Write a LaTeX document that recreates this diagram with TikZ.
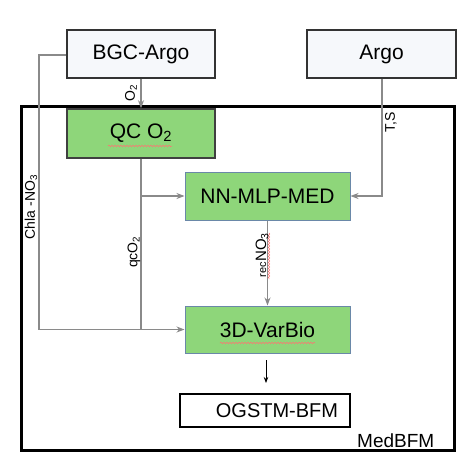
\documentclass[tikz,border=0pt]{standalone}
\usepackage{fontspec}
\setmainfont{Liberation Sans}
\usetikzlibrary{arrows.meta,decorations.pathmorphing}
\definecolor{boxgreen}{HTML}{8ED67A}
\definecolor{srcfill}{HTML}{F6F8FB}
\definecolor{conn}{HTML}{8A8A8A}
\definecolor{bluebd}{HTML}{6A88A8}
\begin{document}
\begin{tikzpicture}[x=1pt,y=-1pt,
  srcbox/.style={draw=black!80,line width=1.4pt,fill=srcfill,minimum width=148pt,minimum height=48pt,inner sep=0pt,font=\fontsize{21}{24}\selectfont},
  qcbox/.style={draw=black!75,line width=1.5pt,fill=boxgreen,minimum width=148pt,minimum height=49pt,inner sep=0pt,font=\fontsize{21}{24}\selectfont},
  gbox/.style={draw=bluebd,line width=1pt,fill=boxgreen,minimum width=165pt,minimum height=48pt,inner sep=0pt,font=\fontsize{21}{24}\selectfont},
  outbox/.style={draw=black,line width=2.2pt,fill=white,minimum width=170pt,minimum height=33pt,inner sep=0pt,font=\fontsize{20}{24}\selectfont},
  conn/.style={draw=conn,line width=1.1pt},
  carrow/.style={conn,-{Stealth[length=8pt,width=6pt,inset=2.5pt]}},
  lab/.style={rotate=90,inner sep=0pt,font=\fontsize{14}{16}\selectfont},
  squig/.style={draw=red!55,line width=0.5pt,decorate,decoration={snake,amplitude=0.8pt,segment length=3pt}}
]
\useasboundingbox (0,0) rectangle (474,474);
\fill[white] (0,0) rectangle (474,474);
% frame
\draw[line width=3pt] (21,106) rectangle (454,450);
\node[anchor=base west,inner sep=0pt,font=\fontsize{19}{22}\selectfont] (medbfm) at (357,447) {MedBFM};
% boxes
\node[srcbox] (bgc) at (141,54) {BGC-Argo};
\node[srcbox,minimum width=149pt] (argo) at (381.5,54) {Argo};
\node[qcbox] (qc) at (141,133.5) {QC O\textsubscript{2}};
\node[gbox] (nn) at (267.5,196) {NN-MLP-MED};
\node[gbox,minimum height=47pt] (var) at (267.5,329.5) {3D-VarBio};
\node[outbox] (ogstm) at (265,410.5) {\hspace*{24pt}OGSTM-BFM};
% spell-check squiggles
\draw[squig] (108,146) -- (172,146);
\draw[squig] (220,343) -- (315,343);
\draw[squig] (269,233) -- (269,279);
% coordinates
\coordinate (cl) at (39,55);
\coordinate (j1) at (141,196);
\coordinate (j2) at (141,329);
\coordinate (a1) at (266,360);
\coordinate (a2) at (266,383);
% connectors
\draw[carrow] (bgc.west |- cl) -- (cl) |- (var.west);
\draw[carrow] (bgc.south) -- (qc.north);
\draw[conn] (qc.south) -- (j2);
\draw[carrow] (j1) -- (nn.west);
\draw[carrow] (argo.south -| 382,0) |- (nn.east);
\draw[carrow] (nn.south) -- (var.north);
\draw[-{Stealth[length=6pt,width=4.5pt]},line width=0.8pt] (a1) -- (a2);
% labels
\node[lab] (lchl) at (31,207) {Chla -NO\textsubscript{3}};
\node[lab] (lo2) at (131,93) {O\textsubscript{2}};
\node[lab] (lqc) at (134,252) {qcO\textsubscript{2}};
\node[lab] (lts) at (391,122) {T,S};
\node[lab,font=\fontsize{15}{16}\selectfont] (lrec) at (262,255) {{\fontsize{11}{12}\selectfont rec}NO\textsubscript{3}};
\end{tikzpicture}
\end{document}
